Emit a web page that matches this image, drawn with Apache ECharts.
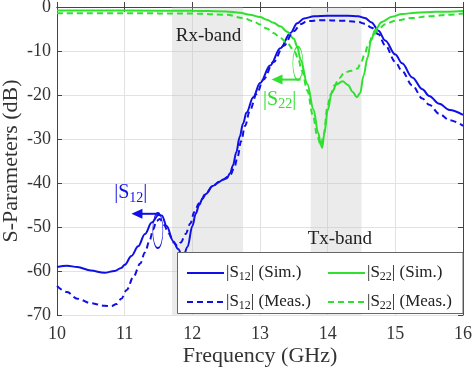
<!DOCTYPE html>
<html><head><meta charset="utf-8">
<script src="https://cdn.jsdelivr.net/npm/echarts@6/dist/echarts.min.js"></script>
<style>html,body{margin:0;padding:0;background:#fff}#c{width:474px;height:372px}</style>
</head><body><div id="c"></div>
<script>
// ---- data ----
const xTicks = [10, 11, 12, 13, 14, 15, 16];
const yTicks = [0, -10, -20, -30, -40, -50, -60, -70];
const rxBand = [11.7, 12.75];
const txBand = [13.75, 14.5];

const fS12Sim = [10.0,10.15,10.3,10.5,10.7,10.85,10.95,11.0,11.1,11.2,11.3,11.4,11.5,11.55,11.62,11.72,11.79,11.86,11.93,12.0,12.05,12.1,12.15,12.2,12.3,12.4,12.46,12.52,12.56,12.6,12.65,12.7,12.75,12.8,12.9,13.0,13.15,13.3,13.45,13.55,13.65,13.8,14.0,14.3,14.45,14.55,14.65,14.75,14.85,15.0,15.1,15.25,15.4,15.5,15.65,15.8,16.0];
const s12Sim  = [-59.1,-58.8,-59.1,-59.9,-60.4,-60.0,-59.3,-58.6,-56.6,-54.4,-51.6,-49.0,-47.3,-47.4,-49.8,-53.3,-55.0,-57.0,-54.5,-49.8,-47.0,-45.0,-43.6,-42.5,-40.7,-39.7,-39.2,-38.6,-37.7,-36.0,-33.0,-29.5,-26.5,-24.0,-20.5,-17.3,-13.3,-9.4,-5.9,-3.7,-2.6,-2.1,-2.0,-2.0,-2.1,-2.5,-3.5,-5.4,-7.6,-10.8,-12.8,-16.0,-18.7,-20.2,-22.0,-23.4,-24.5];

const fS12Meas = [10.0,10.15,10.3,10.5,10.7,10.8,10.88,10.95,11.03,11.13,11.23,11.3,11.37,11.42,11.47,11.52,11.58,11.65,11.72,11.78,11.83,11.9,11.97,12.03,12.1,12.2,12.3,12.4,12.5,12.56,12.62,12.67,12.72,12.78,12.85,12.95,13.05,13.2,13.35,13.5,13.6,13.7,13.9,14.2,14.45,14.55,14.65,14.75,14.85,15.0,15.1,15.25,15.4,15.5,15.65,15.8,16.0];
const s12Meas  = [-63.4,-64.8,-66.3,-67.3,-67.9,-68.0,-67.5,-66.3,-64.3,-61.3,-58.3,-55.8,-53.0,-50.6,-48.6,-48.2,-49.5,-51.5,-53.5,-54.3,-53.5,-51.6,-49.2,-46.6,-44.6,-42.4,-40.7,-39.8,-39.0,-38.2,-36.5,-34.0,-30.5,-27.0,-23.5,-19.8,-16.5,-12.5,-8.8,-5.5,-3.9,-3.2,-3.0,-3.1,-3.4,-3.8,-4.7,-6.2,-8.7,-12.5,-14.6,-17.8,-20.8,-22.2,-24.3,-25.7,-27.0];

const fS22Sim = [10.0,11.0,12.0,12.5,12.7,12.85,13.0,13.1,13.2,13.3,13.4,13.5,13.55,13.6,13.7,13.79,13.86,13.9,13.92,13.95,14.0,14.06,14.13,14.22,14.3,14.37,14.43,14.48,14.53,14.59,14.64,14.7,14.8,14.95,15.1,15.3,15.6,16.0];
const s22Sim  = [-0.8,-0.8,-0.85,-1.0,-1.3,-1.75,-2.3,-2.9,-3.6,-4.4,-5.6,-7.2,-9.0,-12.0,-17.5,-23.3,-28.6,-31.4,-32.0,-28.8,-23.5,-19.5,-17.6,-16.9,-17.7,-19.3,-20.5,-19.6,-15.6,-11.5,-7.6,-5.2,-3.4,-2.2,-1.6,-1.3,-1.1,-0.9];

const fS22Meas = [10.0,11.0,12.0,12.5,12.75,12.9,13.0,13.1,13.2,13.3,13.4,13.5,13.56,13.62,13.7,13.78,13.85,13.9,13.94,14.0,14.04,14.1,14.17,14.25,14.35,14.44,14.5,14.55,14.6,14.67,14.75,14.85,15.0,15.25,15.5,15.75,16.0];
const s22Meas  = [-1.4,-1.4,-1.5,-1.75,-2.5,-3.2,-4.0,-4.9,-5.9,-7.0,-8.2,-9.8,-11.5,-14.5,-19.0,-24.5,-29.5,-31.5,-29.0,-22.5,-20.0,-17.8,-16.2,-14.9,-14.5,-14.0,-12.3,-10.5,-8.5,-6.5,-5.0,-3.9,-3.1,-2.5,-2.1,-1.8,-1.5];

// annotations (data coordinates)
const bandLabels = [{text:'Rx-band', x:12.24, y:-6.6}, {text:'Tx-band', x:14.18, y:-52.7}];
const ann12 = {cx:11.49, cy:-50.8, rx:0.075, ry:4.0, arrowFrom:[11.52,-47.0], arrowTo:[11.1,-47.0], label:[11.09,-42.3], sub:'12'};
const ann22 = {cx:13.56, cy:-12.8, rx:0.075, ry:3.75, arrowFrom:[13.60,-16.5], arrowTo:[13.17,-16.5], label:[13.29,-21.0], sub:'22'};

const BLUE = '#1010e6', GREEN = '#2fe02f';
const FONT = 'Liberation Serif';

const zip = (a, b) => a.map((v, i) => [v, b[i]]);
const chart = echarts.init(document.getElementById('c'), null, {renderer: 'canvas'});

const names = {s12sim:['12','(Sim.)'], s12meas:['12','(Meas.)'], s22sim:['22','(Sim.)'], s22meas:['22','(Meas.)']};
const legRich = {
  n: {fontFamily: FONT, fontSize: 17, color: '#222', lineHeight: 20, verticalAlign: 'middle'},
  s: {fontFamily: FONT, fontSize: 12, color: '#222', lineHeight: 20, verticalAlign: 'bottom', padding: [10, 0, 0, 0]}
};
const legFmt = n => '{n||S}{s|' + names[n][0] + '}{n|| ' + names[n][1] + '}';

const lineSeries = (name, f, v, color, type) => ({
  name, type: 'line', data: zip(f, v), showSymbol: false, symbol: 'none',
  smooth: 0.35, smoothMonotone: 'x', z: 3,
  lineStyle: {color, width: 2, type}, itemStyle: {color}
});

const legendCommon = {
  top: 256, orient: 'vertical', itemGap: 7, itemWidth: 37, itemHeight: 14, z: 20,
  formatter: legFmt, textStyle: {rich: legRich, fontFamily: FONT, padding: [0, 0, 0, -3]}, selectedMode: false,
  itemStyle: {opacity: 0, borderWidth: 0}
};

chart.setOption({
  animation: false,
  textStyle: {fontFamily: FONT},
  grid: {left: 57, right: 11, top: 7, bottom: 57, containLabel: false, outerBoundsMode: 'none'},
  xAxis: [
    {type: 'value', min: xTicks[0], max: xTicks[xTicks.length-1], interval: 1,
     name: 'Frequency (GHz)', nameLocation: 'middle', nameGap: 30, nameMoveOverlap: false,
     nameTextStyle: {fontFamily: FONT, fontSize: 22, color: '#333'},
     axisLine: {lineStyle: {color: '#444'}},
     axisTick: {inside: true, length: 5, lineStyle: {color: '#444'}},
     axisLabel: {fontFamily: FONT, fontSize: 18, color: '#333', margin: 10},
     splitLine: {show: true, lineStyle: {color: '#e2e2e2'}}},
    {type: 'value', position: 'top', min: xTicks[0], max: xTicks[xTicks.length-1], interval: 1,
     axisLine: {onZero: false, lineStyle: {color: '#444'}},
     axisTick: {inside: true, length: 5, lineStyle: {color: '#444'}},
     axisLabel: {show: false}, splitLine: {show: false}}
  ],
  yAxis: [
    {type: 'value', min: yTicks[yTicks.length-1], max: yTicks[0], interval: 10,
     name: 'S-Parameters (dB)', nameLocation: 'middle', nameGap: 35, nameMoveOverlap: false,
     nameTextStyle: {fontFamily: FONT, fontSize: 22, color: '#333'},
     axisLine: {show: true, onZero: false, lineStyle: {color: '#444'}},
     axisTick: {show: true, inside: true, length: 5, lineStyle: {color: '#444'}},
     axisLabel: {fontFamily: FONT, fontSize: 18, color: '#333', margin: 6},
     splitLine: {show: true, lineStyle: {color: '#e2e2e2'}}},
    {type: 'value', position: 'right', min: yTicks[yTicks.length-1], max: yTicks[0], interval: 10,
     axisLine: {show: true, onZero: false, lineStyle: {color: '#444'}},
     axisTick: {show: true, inside: true, length: 5, lineStyle: {color: '#444'}},
     axisLabel: {show: false}, splitLine: {show: false}}
  ],
  legend: [
    Object.assign({left: 181, data: ['s12sim', 's12meas']}, legendCommon),
    Object.assign({left: 322, data: ['s22sim', 's22meas']}, legendCommon)
  ],
  series: [
    {type: 'line', data: [], z: 1, silent: true,
     markArea: {silent: true, itemStyle: {color: 'rgba(190,190,190,0.3)'},
       data: [[{xAxis: rxBand[0]}, {xAxis: rxBand[1]}], [{xAxis: txBand[0]}, {xAxis: txBand[1]}]]}},
    lineSeries('s12sim', fS12Sim, s12Sim, BLUE, 'solid'),
    lineSeries('s22sim', fS22Sim, s22Sim, GREEN, 'solid'),
    lineSeries('s12meas', fS12Meas, s12Meas, BLUE, [6, 4]),
    lineSeries('s22meas', fS22Meas, s22Meas, GREEN, [6, 4])
  ]
});

// ---- annotations positioned through the axes ----
const P = (x, y) => chart.convertToPixel({xAxisIndex: 0, yAxisIndex: 0}, [x, y]);
const gfx = [];
bandLabels.forEach(b => {
  const p = P(b.x, b.y);
  gfx.push({type: 'text', x: p[0], y: p[1], z: 15,
    style: {text: b.text, fontFamily: FONT, fontSize: 19, fill: '#222', align: 'center', verticalAlign: 'middle'}});
});
function annot(a, color) {
  const c = P(a.cx, a.cy);
  const e = P(a.cx + a.rx, a.cy + a.ry);
  const rx = Math.abs(e[0] - c[0]), ry = Math.abs(c[1] - e[1]);
  gfx.push({type: 'circle', x: c[0], y: c[1], scaleX: rx / ry, z: 15,
    shape: {cx: 0, cy: 0, r: ry}, style: {fill: null, stroke: color, lineWidth: 2, strokeNoScale: true}});
  const p0 = P(a.arrowFrom[0], a.arrowFrom[1]), p1 = P(a.arrowTo[0], a.arrowTo[1]);
  gfx.push({type: 'line', z: 15, shape: {x1: p0[0], y1: p0[1], x2: p1[0] + 8, y2: p1[1]}, style: {stroke: color, lineWidth: 2}});
  gfx.push({type: 'polygon', z: 15, shape: {points: [[p1[0], p1[1]], [p1[0] + 11, p1[1] - 5], [p1[0] + 11, p1[1] + 5]]}, style: {fill: color}});
  const l = P(a.label[0], a.label[1]);
  gfx.push({type: 'text', x: l[0], y: l[1], z: 15,
    style: {text: '{n||S}{s|' + a.sub + '}{n||}', align: 'center', verticalAlign: 'middle',
      rich: {n: {fontFamily: FONT, fontSize: 20, fill: color, lineHeight: 24, verticalAlign: 'middle'},
             s: {fontFamily: FONT, fontSize: 14, fill: color, lineHeight: 24, verticalAlign: 'bottom', padding: [11, 0, 0, 0]}}}});
}
annot(ann12, BLUE);
annot(ann22, GREEN);
// legend frame
const gr = P(16, 0);
gfx.push({type: 'rect', z: 10, shape: {x: 177.5, y: 252.5, width: gr[0] - 177.5, height: 61}, style: {fill: '#fff', stroke: '#666', lineWidth: 1}});
chart.setOption({graphic: gfx});
</script>
</body></html>
